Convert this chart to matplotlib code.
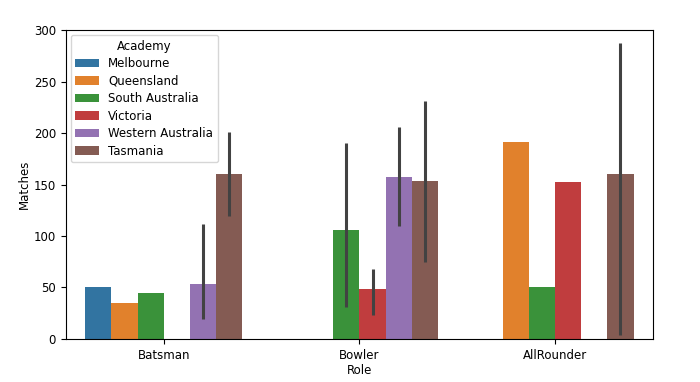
import matplotlib
matplotlib.use("Agg")
import matplotlib.pyplot as plt
import numpy as np

roles = ["Batsman", "Bowler", "AllRounder"]
academies = ["Melbourne", "Queensland", "South Australia", "Victoria",
             "Western Australia", "Tasmania"]

# mean matches per role, one list per academy (nan = no bar)
nan = np.nan
means = {
    "Melbourne":         [50, nan, nan],
    "Queensland":        [35, nan, 191],
    "South Australia":   [45, 106, 50],
    "Victoria":          [nan, 48, 152],
    "Western Australia": [53, 157, nan],
    "Tasmania":          [160, 153, 160],
}
# confidence interval ends (nan = no error bar)
ci_low = {
    "Melbourne":         [nan, nan, nan],
    "Queensland":        [nan, nan, nan],
    "South Australia":   [nan, 31, nan],
    "Victoria":          [nan, 23, nan],
    "Western Australia": [19, 110, nan],
    "Tasmania":          [119, 75, 4],
}
ci_high = {
    "Melbourne":         [nan, nan, nan],
    "Queensland":        [nan, nan, nan],
    "South Australia":   [nan, 190, nan],
    "Victoria":          [nan, 68, nan],
    "Western Australia": [112, 206, nan],
    "Tasmania":          [201, 231, 288],
}

colors = ["#3274a1", "#e1812c", "#3a923a", "#c03d3e", "#9372b2", "#845b53"]

plt.rcParams["font.size"] = 8.5

fig = plt.figure(figsize=(7, 3.82), dpi=100)
ax = fig.add_axes([0.094, 0.113, 0.839, 0.808])

x = np.arange(len(roles))
n = len(academies)
w = 0.8 / n
for i, (name, c) in enumerate(zip(academies, colors)):
    pos = x - 0.4 + w * (i + 0.5)
    ax.bar(pos, means[name], width=w, color=c, label=name)
    ax.vlines(pos, ci_low[name], ci_high[name], color="#424242", lw=2.2, zorder=3)

ax.set_xlim(-0.5, 2.5)
ax.set_ylim(0, 300)
ax.set_xticks(x)
ax.set_xticklabels(roles)
ax.set_xlabel("Role", labelpad=2)
ax.set_ylabel("Matches", labelpad=2)
ax.legend(title="Academy", loc="upper left", fontsize=8.5, title_fontsize=8.5,
          labelspacing=0.38, borderaxespad=0.4)

fig.savefig("out.png", dpi=100)
plt.close(fig)
